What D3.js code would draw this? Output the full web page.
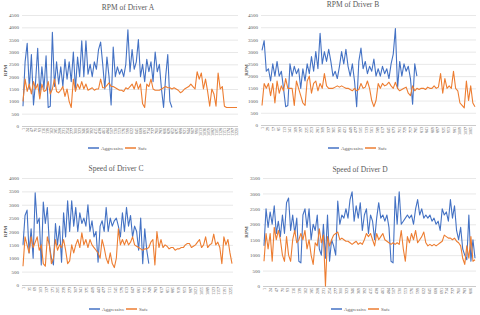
<!DOCTYPE html>
<html>
<head>
<meta charset="utf-8">
<script src="https://cdn.jsdelivr.net/npm/d3@7"></script>
<style>
  body { margin: 0; background: #fff; }
  svg { display: block; }
</style>
</head>
<body>
<svg class="chart" width="480" height="315"></svg>
<script>
// series values (one value every idxStep samples)
const aggressiveA = [800,2600,3350,1500,2900,850,1800,3150,1300,2400,1500,2850,750,800,3800,1600,2600,1700,2400,1600,
  2700,1900,2600,1800,3000,1500,2800,2000,3450,2000,3450,2100,2500,2000,2600,2300,3100,3400,2500,1500,
  2800,2000,850,3200,2000,2400,2100,2300,2000,2500,3900,2200,3100,2300,2600,3500,2000,2500,1800,2700,
  2200,2600,1800,3000,2200,2500,1500,750,2000,2900,1000,750];
const safeA = [1000,1900,1400,1700,1300,1800,1500,1700,1100,1700,1400,1450,1800,1300,1500,1900,1400,1350,1450,1600,
  1200,1500,1000,750,1900,1400,1700,1500,1800,1500,1700,1450,1500,1550,1450,1500,1500,1900,1550,1550,
  1650,1750,1600,1600,1550,1500,1450,1450,1400,1550,1500,1600,1700,1500,1800,1500,1700,900,750,1700,
  1600,1900,1500,1450,1450,1450,1500,1550,1600,1550,1550,1500,1550,1500,1450,1350,1400,1500,1550,1600,
  1700,1600,1500,2200,1900,2150,1500,1900,1400,800,1500,1300,800,2150,1500,1600,800,750,750,750,
  750,750,750];

const aggressiveB = [3050,3450,2200,2300,1800,2500,2000,2600,2000,2200,1500,750,800,2500,2000,2400,2100,2300,1500,2300,
  1800,2500,2100,2800,2200,3000,2300,3750,2500,3000,2600,3100,2600,2000,2200,1900,2400,3000,2500,3100,
  2400,2000,2500,1800,750,2600,3150,2300,2600,2100,2400,2200,2700,2000,2300,2000,2400,2100,2300,1900,
  2500,2900,3950,1500,2600,2000,2500,2200,2400,1900,850,2500,2000];
const safeB = [800,1700,1500,1700,1200,1700,900,1800,1300,1600,1400,1900,1500,1500,1500,800,1800,1500,1200,900,
  800,1800,2000,1300,1700,1800,1400,1700,1500,2100,1600,1500,1500,1500,1550,1600,1550,1600,1550,1500,
  1500,1450,1400,1500,1400,1450,1700,1500,1550,1800,1500,1000,750,1000,1700,1500,1700,1600,1650,1750,
  1600,1500,1750,1500,1400,1450,1500,1550,1300,1200,1600,1400,1500,1450,1500,1500,1450,1550,1500,1500,
  1600,1500,1550,2100,1300,1900,1500,1600,1500,2200,1500,1400,900,800,700,1800,1000,1600,900,750];

const aggressiveC = [1500,2600,2800,1200,2100,1000,3450,2300,2500,750,3100,2300,2900,1500,1000,750,2300,1500,2200,850,
  2700,1800,3150,2000,3150,2200,2900,2000,2700,2300,2500,2200,3000,2000,2400,1800,2000,850,2200,2400,
  2000,2900,2000,2500,2200,2400,2500,2200,1800,2700,2000,2900,2200,2600,1800,2200,2000,1300,2500,800,
  2100,1300,800];
const safeC = [700,1800,1500,1200,1800,1400,1600,1800,1300,1500,800,700,1800,1500,800,1000,1700,1300,1500,1400,
  1700,1300,800,900,1500,1200,1500,1700,1400,1950,1500,1700,1400,1700,1500,1400,1300,1200,1000,1700,
  1400,1000,800,1200,800,650,1000,2100,1500,1700,1500,1700,1500,1600,1800,1500,1450,1400,1350,1300,
  1350,1350,1400,1600,1700,750,2000,1400,1700,1400,1500,1450,1350,1400,1400,1300,1350,1350,1400,1400,
  1500,1550,1550,1400,1450,1500,1600,1700,1400,1500,1800,1400,1500,1550,1900,1500,1600,1400,800,1800,
  1500,1700,1200,800];

const aggressiveD = [1300,2500,1900,2400,2000,2600,1700,2100,1600,2300,1700,2700,2850,1800,2300,1700,2200,800,750,2300,
  2500,1900,2500,1500,2000,1800,2300,1200,1000,2000,900,2300,800,1500,1300,1000,2750,2000,2300,2200,
  2500,2200,2800,3050,2100,2600,2200,2700,1800,2300,2500,1700,2300,2100,1500,2200,2700,2200,2300,2100,
  2300,1900,800,750,2900,2000,3050,2000,2100,2200,2300,2200,2300,2000,2500,2800,2300,2500,2200,2300,
  2200,2300,2100,2200,2000,2100,1800,2500,2300,2400,2100,2800,2200,2600,1800,1500,1900,1200,1000,850,
  2300,800,1500,900];
const safeD = [800,1700,1200,1700,800,1900,1500,1800,1500,1000,800,1600,1000,800,1500,1800,1400,1500,1700,1500,
  1800,1200,1500,1000,700,1400,1300,1850,1400,1650,0,1600,1300,1500,1650,1700,1750,1500,1550,1500,
  1450,1450,1400,1350,1400,1450,1350,1400,1350,1500,1700,1600,1700,1500,1300,1700,1500,1600,1700,1500,
  1450,1400,1350,1400,1350,1400,1350,1800,1200,800,1600,1400,1700,1500,1800,1400,1500,1600,1750,1400,
  1300,1350,1300,1350,1300,1350,1400,1450,1650,1600,1550,1550,1500,1550,1450,1400,1300,900,700,1300,
  900,1600,800,850];

const seriesNames = ["Aggressive", "Safe"];
const colors = ["#4472C4", "#ED7D31"];

// layout of the four small charts
const panels = [
  {title: "RPM of Driver A", agg: aggressiveA, safe: safeA, idxStep: 12, labelStep: 23, yMax: 4500,
   left: 22, right: 238, top: 15, bottom: 126, titleX: 128, titleY: 10, yTitleX: 5, legendX: 88, legendY: 148},
  {title: "RPM of Driver B", agg: aggressiveB, safe: safeB, idxStep: 11, labelStep: 28, yMax: 4500,
   left: 261, right: 476, top: 15, bottom: 125, titleX: 353, titleY: 7, yTitleX: 246, legendX: 328, legendY: 148},
  {title: "Speed of Driver C", agg: aggressiveC, safe: safeC, idxStep: 12, labelStep: 34, yMax: 4000,
   left: 22, right: 233, top: 178, bottom: 285, titleX: 116, titleY: 171, yTitleX: 5, legendX: 89, legendY: 309},
  {title: "Speed of Driver D", agg: aggressiveD, safe: safeD, idxStep: 8, labelStep: 23, yMax: 3500,
   left: 263, right: 476, top: 178, bottom: 286, titleX: 360, titleY: 172, yTitleX: 246, legendX: 331, legendY: 309}
];

const svg = d3.select(".chart");
const serif = "'Liberation Serif', 'DejaVu Serif', serif";

function drawPanel(p) {
  const g = svg.append("g");
  const n = Math.max(p.agg.length, p.safe.length);
  const lastIdx = 1 + (n - 1) * p.idxStep;

  const x = d3.scaleLinear().domain([1, lastIdx]).range([p.left + 1, p.right - 1]);
  const y = d3.scaleLinear().domain([0, p.yMax]).range([p.bottom, p.top]);

  // y axis with gridlines
  const yAxis = g.append("g")
    .attr("transform", "translate(" + p.left + ",0)")
    .call(d3.axisLeft(y).tickValues(d3.range(0, p.yMax + 1, 500)).tickFormat(d3.format("d"))
      .tickSize(-(p.right - p.left)).tickPadding(3));
  yAxis.select(".domain").remove();
  yAxis.selectAll("line").attr("stroke", "#d9d9d9").attr("stroke-width", 0.6);
  yAxis.selectAll("text").attr("fill", "#595959").style("font-family", serif).style("font-size", "5px");

  // category labels along the bottom
  const labels = d3.range(1, lastIdx + 1, p.labelStep);
  const xAxis = g.append("g")
    .attr("transform", "translate(0," + p.bottom + ")")
    .call(d3.axisBottom(x).tickValues(labels).tickFormat(d3.format("d")).tickSize(0).tickPadding(2));
  xAxis.select(".domain").attr("stroke", "#bfbfbf").attr("stroke-width", 0.7)
    .attr("d", "M" + p.left + ",0.5H" + p.right);
  xAxis.selectAll("text")
    .attr("fill", "#595959")
    .style("font-family", serif).style("font-size", "4px")
    .attr("text-anchor", "end")
    .attr("transform", "rotate(-90)")
    .attr("x", -2).attr("y", 0).attr("dy", "0.35em");

  // lines
  const line = d3.line()
    .x(function (d, i) { return x(1 + i * p.idxStep); })
    .y(function (d) { return y(d); });

  [p.agg, p.safe].forEach(function (vals, k) {
    g.append("path")
      .datum(vals)
      .attr("fill", "none")
      .attr("stroke", colors[k])
      .attr("stroke-width", 1.1)
      .attr("stroke-linejoin", "round")
      .attr("d", line);
  });

  // title
  g.append("text")
    .attr("x", p.titleX).attr("y", p.titleY)
    .attr("text-anchor", "middle")
    .attr("fill", "#595959")
    .style("font-family", serif).style("font-size", "7.5px")
    .text(p.title);

  // y title
  g.append("text")
    .attr("transform", "translate(" + p.yTitleX + "," + ((p.top + p.bottom) / 2) + ") rotate(-90)")
    .attr("text-anchor", "middle")
    .attr("dy", "0.35em")
    .attr("fill", "#595959")
    .style("font-family", serif).style("font-size", "5px").style("font-weight", "bold")
    .text("RPM");

  // legend
  const offsets = [0, 37];
  seriesNames.forEach(function (name, k) {
    const lx = p.legendX + offsets[k];
    g.append("line")
      .attr("x1", lx).attr("x2", lx + 11)
      .attr("y1", p.legendY).attr("y2", p.legendY)
      .attr("stroke", colors[k]).attr("stroke-width", 1.5);
    g.append("text")
      .attr("x", lx + 13).attr("y", p.legendY)
      .attr("dy", "0.35em")
      .attr("fill", "#595959")
      .style("font-family", serif).style("font-size", "5px")
      .text(name);
  });
}

panels.forEach(drawPanel);
</script>
</body>
</html>
